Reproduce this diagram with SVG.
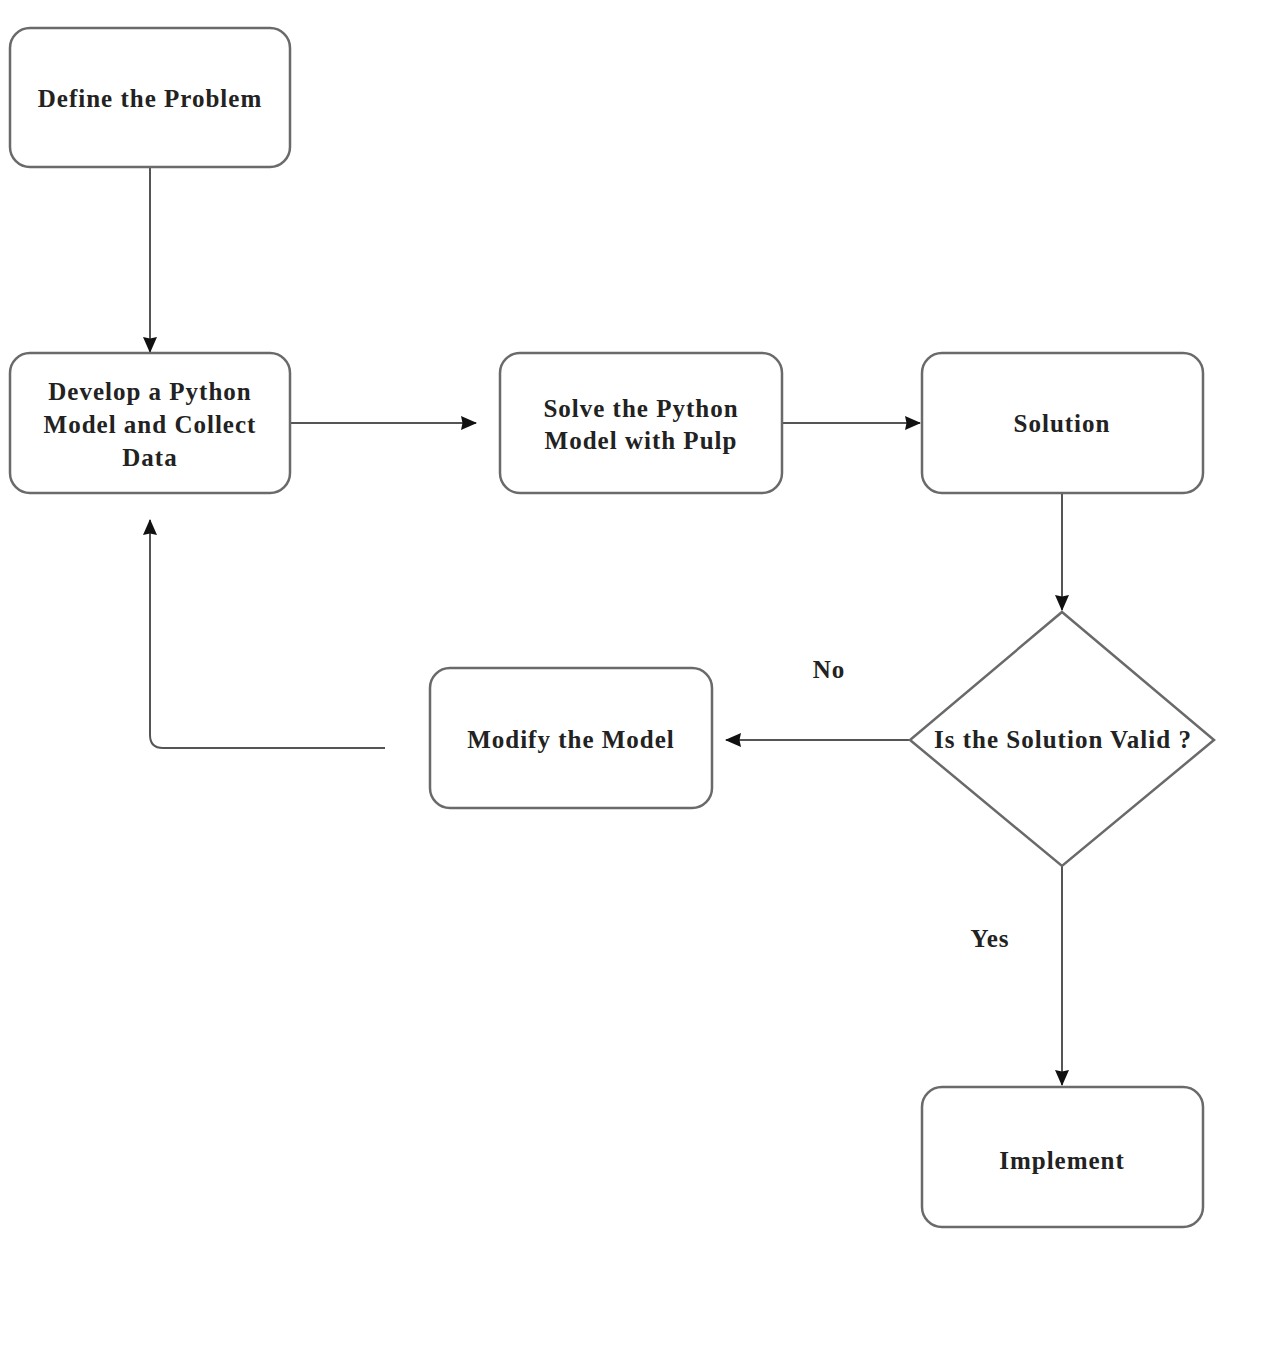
<svg xmlns="http://www.w3.org/2000/svg" width="1262" height="1348" viewBox="0 0 1262 1348">
<style>
.box{fill:#fff;stroke:#6a6a6a;stroke-width:2.5}
.lbl{font-family:"Liberation Serif",serif;font-weight:bold;font-size:25px;letter-spacing:1px;fill:#222;text-anchor:middle}
.con{fill:none;stroke:#555;stroke-width:2}
</style>
<defs>
<marker id="ah" viewBox="0 0 16 14" refX="15" refY="7" markerWidth="16" markerHeight="14" markerUnits="userSpaceOnUse" orient="auto">
<path d="M0,0 L16,7 L0,14 L1.5,7 Z" fill="#111"/>
</marker>
</defs>
<rect width="1262" height="1348" fill="#fff"/>
<g id="connectors">
<path class="con" d="M150,167 V352" marker-end="url(#ah)"/>
<path class="con" d="M290,423 H476" marker-end="url(#ah)"/>
<path class="con" d="M782,423 H920" marker-end="url(#ah)"/>
<path class="con" d="M1062,493 V610" marker-end="url(#ah)"/>
<path class="con" d="M910,740 H726" marker-end="url(#ah)"/>
<path class="con" d="M385,748 H163 Q150,748 150,735 V520" marker-end="url(#ah)"/>
<path class="con" d="M1062,866 V1085" marker-end="url(#ah)"/>
<text class="lbl" x="829" y="678">No</text>
<text class="lbl" x="990" y="947">Yes</text>
</g>
<g id="define">
<rect class="box" x="10" y="28" width="280" height="139" rx="20"/>
<text class="lbl" x="150" y="107">Define the Problem</text>
</g>
<g id="develop">
<rect class="box" x="10" y="353" width="280" height="140" rx="20"/>
<text class="lbl" x="150" y="400">Develop a Python</text>
<text class="lbl" x="150" y="433">Model and Collect</text>
<text class="lbl" x="150" y="466">Data</text>
</g>
<g id="solve">
<rect class="box" x="500" y="353" width="282" height="140" rx="20"/>
<text class="lbl" x="641" y="417">Solve the Python</text>
<text class="lbl" x="641" y="449">Model with Pulp</text>
</g>
<g id="solution">
<rect class="box" x="922" y="353" width="281" height="140" rx="20"/>
<text class="lbl" x="1062" y="432">Solution</text>
</g>
<g id="valid">
<path class="box" d="M1062,612 L1214,740 L1062,866 L910,740 Z"/>
<text class="lbl" x="1063" y="748">Is the Solution Valid ?</text>
</g>
<g id="modify">
<rect class="box" x="430" y="668" width="282" height="140" rx="20"/>
<text class="lbl" x="571" y="748">Modify the Model</text>
</g>
<g id="implement">
<rect class="box" x="922" y="1087" width="281" height="140" rx="20"/>
<text class="lbl" x="1062" y="1169">Implement</text>
</g>
</svg>
